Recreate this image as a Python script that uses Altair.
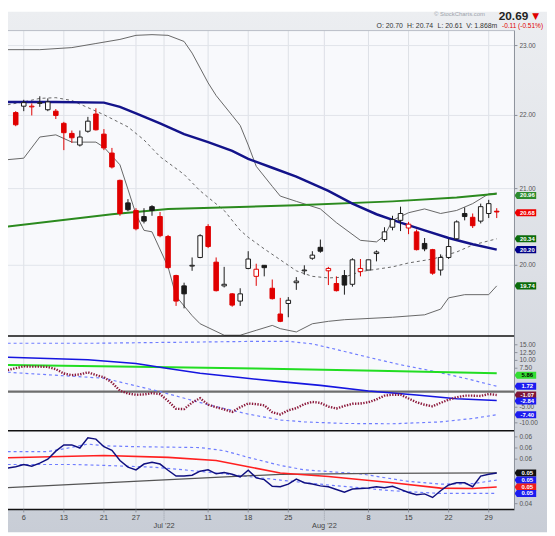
import altair as alt
import pandas as pd

# ---------------- data ----------------
dates = ["Jun 3", "Jun 6", "Jun 7", "Jun 8", "Jun 9", "Jun 10", "Jun 13", "Jun 14", "Jun 15", "Jun 16", "Jun 17",
         "Jun 21", "Jun 22", "Jun 23", "Jun 24", "Jun 27", "Jun 28", "Jun 29", "Jun 30", "Jul 1",
         "Jul 5", "Jul 6", "Jul 7", "Jul 8", "Jul 11", "Jul 12", "Jul 13", "Jul 14", "Jul 15",
         "Jul 18", "Jul 19", "Jul 20", "Jul 21", "Jul 22", "Jul 25", "Jul 26", "Jul 27", "Jul 28", "Jul 29",
         "Aug 1", "Aug 2", "Aug 3", "Aug 4", "Aug 5", "Aug 8", "Aug 9", "Aug 10", "Aug 11", "Aug 12",
         "Aug 15", "Aug 16", "Aug 17", "Aug 18", "Aug 19", "Aug 22", "Aug 23", "Aug 24", "Aug 25", "Aug 26",
         "Aug 29", "Aug 30"]
opens = [22.04, 22.13, 22.12, 22.17, 22.08, 22.06, 21.89, 21.75, 21.59, 21.78, 22.02,
         21.74, 21.48, 21.11, 20.81, 20.71, 20.63, 20.76, 20.63, 20.37,
         19.87, 19.74, 19.99, 20.10, 20.50, 20.04, 19.74, 19.64, 19.55,
         19.96, 19.86, 20.00, 19.71, 19.39, 19.52, 19.78, 19.93, 20.09, 20.23,
         19.93, 19.77, 19.87, 19.76, 19.92, 19.94, 20.15, 20.33, 20.49, 20.58,
         20.48, 20.43, 20.28, 20.20, 19.94, 20.10, 20.34, 20.67, 20.62, 20.57,
         20.67, 20.70]
highs = [22.06, 22.22, 22.17, 22.27, 22.24, 22.09, 21.91, 21.79, 21.79, 21.98, 22.10,
         21.81, 21.55, 21.12, 20.86, 20.74, 20.74, 20.78, 20.69, 20.39,
         19.88, 19.78, 20.10, 20.40, 20.53, 20.10, 19.98, 19.65, 19.71,
         20.18, 20.02, 20.00, 19.82, 19.59, 19.60, 19.85, 20.00, 20.18, 20.33,
         19.98, 19.86, 19.94, 20.09, 20.08, 20.07, 20.19, 20.49, 20.64, 20.76,
         20.56, 20.46, 20.35, 20.21, 20.14, 20.34, 20.58, 20.75, 20.67, 20.80,
         20.85, 20.74]
lows = [21.85, 22.06, 22.00, 22.12, 22.06, 21.95, 21.52, 21.62, 21.57, 21.76, 21.79,
        21.52, 21.27, 20.64, 20.70, 20.45, 20.54, 20.64, 20.36, 19.96,
        19.49, 19.46, 19.93, 20.09, 20.22, 19.67, 19.72, 19.48, 19.49,
        19.95, 19.74, 19.86, 19.57, 19.29, 19.35, 19.69, 19.88, 20.07, 20.16,
        19.75, 19.67, 19.63, 19.73, 19.86, 19.94, 20.05, 20.30, 20.45, 20.44,
        20.40, 20.19, 20.18, 19.88, 19.87, 20.08, 20.33, 20.58, 20.48, 20.54,
        20.61, 20.61]
closes = [21.87, 22.18, 22.13, 22.18, 22.19, 22.00, 21.76, 21.69, 21.70, 21.92, 21.80,
          21.55, 21.29, 20.67, 20.72, 20.47, 20.57, 20.71, 20.38, 19.97,
          19.55, 19.64, 20.00, 20.38, 20.24, 19.68, 19.76, 19.50, 19.64,
          20.08, 19.95, 19.97, 19.58, 19.30, 19.56, 19.80, 19.94, 20.13, 20.18,
          19.96, 19.68, 19.75, 20.07, 19.96, 20.07, 20.17, 20.43, 20.59, 20.67,
          20.53, 20.20, 20.21, 19.90, 20.10, 20.24, 20.56, 20.63, 20.51, 20.76,
          20.80, 20.69]

tick_days = ["Jun 6", "Jun 13", "Jun 21", "Jun 27", "Jul 11", "Jul 18", "Jul 25", "Aug 8", "Aug 15", "Aug 22", "Aug 29"]
tick_labels = ["6", "13", "21", "27", "11", "18", "25", "8", "15", "22", "29"]
month_first = ["Jul 1", "Aug 1"]
month_labels = ["Jul '22", "Aug '22"]

# price overlays (trading-day index, value); index -1 is the session before the first candle
sma50_i = [-1, 5, 11, 13, 15, 18, 21, 24, 27, 29, 32, 35, 39, 42, 45, 48, 51, 54, 57, 60]
sma50_v = [22.19, 22.19, 22.18, 22.12, 22.03, 21.89, 21.74, 21.63, 21.51, 21.40, 21.28, 21.16, 20.97,
           20.80, 20.66, 20.55, 20.45, 20.35, 20.27, 20.20]
sma200_i = [-1, 12, 19, 29, 35, 47, 55, 60]
sma200_v = [20.50, 20.66, 20.73, 20.76, 20.78, 20.83, 20.88, 20.93]
bbu_i = [-1, 3, 7, 10, 13, 15, 17, 19, 21, 22, 24, 25, 27, 28, 29, 30, 32, 33, 35, 38, 40, 43, 45, 46, 47,
         49, 51, 53, 55, 57, 59, 60]
bbu_v = [22.94, 22.94, 22.97, 23.03, 23.09, 23.15, 23.16, 23.15, 23.06, 22.89, 22.46, 22.28, 22.00, 21.86,
         21.59, 21.30, 21.03, 20.90, 20.83, 20.73, 20.55, 20.32, 20.30, 20.38, 20.58, 20.68, 20.73, 20.67,
         20.71, 20.80, 20.93, 20.94]
bbm_i = [-1, 1, 3, 5, 7, 8, 11, 14, 16, 18, 21, 23, 26, 28, 29, 31, 33, 35, 37, 39, 41, 43, 47, 49, 52,
         55, 57, 60]
bbm_v = [22.15, 22.19, 22.24, 22.25, 22.21, 22.16, 22.01, 21.84, 21.66, 21.43, 21.19, 20.97, 20.71, 20.45,
         20.36, 20.21, 20.07, 19.93, 19.86, 19.84, 19.85, 19.92, 19.98, 20.03, 20.08, 20.17, 20.26, 20.34]
bbl_i = [-1, 1, 3, 5, 7, 10, 11, 13, 14, 15, 16, 17, 19, 20, 22, 23, 26, 28, 30, 32, 33, 35, 37, 39, 41,
         47, 51, 53, 54, 56, 59, 60]
bbl_v = [21.39, 21.41, 21.70, 21.73, 21.63, 21.63, 21.56, 21.32, 20.99, 20.66, 20.45, 20.43, 19.98, 19.61,
         19.37, 19.27, 19.13, 19.13, 19.19, 19.25, 19.21, 19.17, 19.27, 19.30, 19.32, 19.35, 19.38, 19.45,
         19.59, 19.63, 19.63, 19.74]

# middle panel
p2_green_i = [-1, 15, 30, 45, 60]
p2_green_v = [8.5, 8.0, 7.4, 6.7, 5.9]
p2_blue_i = [-1, 4, 9, 15, 19, 23, 28, 33, 38, 44, 50, 55, 60]
p2_blue_v = [11.0, 10.6, 10.2, 9.0, 7.4, 5.9, 4.5, 3.2, 2.0, 0.2, -1.1, -2.3, -2.84]
p2_up_i = [-1, 10, 20, 30, 34, 37, 40, 44, 48, 52, 56, 60]
p2_up_v = [15.5, 15.5, 15.8, 16.1, 16.1, 15.3, 13.5, 11.0, 8.6, 6.6, 4.3, 1.72]
p2_lo_i = [-1, 11, 18, 24, 29, 33, 36, 41, 47, 53, 57, 60]
p2_lo_v = [6.2, 4.3, 0.0, -4.2, -7.2, -9.1, -9.7, -10.2, -10.3, -9.7, -8.6, -7.4]
p2_maroon = [6.9, 7.5, 8.1, 8.0, 8.0, 7.9, 7.2, 5.8, 5.3, 5.5, 6.2, 5.3, 4.6, 2.9, 0.3, -0.6, -1.0, -0.9,
             -0.5, -0.8, -3.0, -5.5, -5.6, -3.5, -2.1, -4.2, -5.0, -5.7, -6.5, -5.0, -3.8, -4.0, -4.4,
             -6.6, -7.3, -6.0, -5.3, -4.0, -3.3, -3.6, -4.8, -5.4, -4.6, -3.9, -3.8, -3.4, -2.5, -1.3,
             -1.0, -1.0, -2.2, -3.4, -4.2, -4.7, -3.6, -2.6, -1.8, -1.3, -1.3, -1.4, -0.8, -1.07]

# lower panel
p3_navy = [0.0530, 0.0533, 0.0538, 0.0534, 0.0541, 0.0550, 0.0568, 0.0582, 0.0582, 0.0575, 0.0598, 0.0595,
           0.0578, 0.0570, 0.0547, 0.0532, 0.0526, 0.0539, 0.0543, 0.0539, 0.0525, 0.0512, 0.0512, 0.0514,
           0.0523, 0.0526, 0.0517, 0.0520, 0.0516, 0.0510, 0.0525, 0.0508, 0.0504, 0.0489, 0.0488, 0.0494,
           0.0505, 0.0497, 0.0494, 0.0490, 0.0488, 0.0482, 0.0476, 0.0483, 0.0484, 0.0485, 0.0488, 0.0486,
           0.0489, 0.0482, 0.0475, 0.0470, 0.0472, 0.0464, 0.0479, 0.0492, 0.0497, 0.0497, 0.0488, 0.0512,
           0.0516, 0.0519]
p3_red_i = [-1, 11, 19, 25, 29, 33, 39, 47, 53, 57, 60]
p3_red_v = [0.0553, 0.0558, 0.0554, 0.0547, 0.0533, 0.0519, 0.0511, 0.0497, 0.0485, 0.0484, 0.04875]
p3_black_i = [-1, 16, 33, 45, 60]
p3_black_v = [0.0486, 0.0501, 0.0516, 0.0518, 0.0519]
p3_up_i = [-1, 4, 6, 9, 11, 15, 23, 26, 29, 33, 36, 43, 49, 53, 57, 60]
p3_up_v = [0.0567, 0.0567, 0.0573, 0.0584, 0.0580, 0.0578, 0.0576, 0.0569, 0.0554, 0.0536, 0.0526, 0.0517,
           0.0500, 0.0494, 0.0495, 0.0503]
p3_lo_i = [-1, 7, 11, 17, 21, 26, 33, 39, 47, 53, 60]
p3_lo_v = [0.0538, 0.0538, 0.0536, 0.0532, 0.0526, 0.0517, 0.0503, 0.0492, 0.0479, 0.0473, 0.0473]

# axis ticks (only those not hidden behind value tags) and right-hand value tags
price_ticks = [20, 21, 22, 23]
p2_ticks = [15, 12.5, 10, 7.5, -5, -10]
p3_ticks = [0.06, 0.0575, 0.055, 0.045]
price_tag_txt = ["20.96", "20.68", "20.34", "20.20", "19.74"]
price_tag_val = [20.96, 20.68, 20.34, 20.20, 19.74]
price_tag_col = ["#2e8b2e", "#ee0000", "#0b6b0b", "#000088", "#0b6b0b"]
price_tag_nudge = [4, 0, 0, 0, 0]
p2_tag_txt = ["5.86", "1.72", "-1.07", "-2.84", "-7.40"]
p2_tag_val = [5.86, 1.72, -1.07, -2.84, -7.40]
p2_tag_col = ["#33dd33", "#1c1cf0", "#7d1535", "#1c1cf0", "#1c1cf0"]
p2_tag_txtcol = ["#000000", "#ffffff", "#ffffff", "#ffffff", "#ffffff"]
p2_tag_nudge = [2, 0, 0, 0.5, 0]
p3_tag_val = [p3_black_v[-1], p3_up_v[-1], p3_red_v[-1], p3_lo_v[-1]]
p3_tag_col = ["#111111", "#1c1cf0", "#f01c1c", "#1c1cf0"]
p3_tag_nudge = [0, 0, 0, 0]

# ---------------- layout constants ----------------
FONT = "Liberation Sans"
W, H = 514, 505
PT, PB = 19, 329
Q2T, Q2B = 329, 425
Q3T, Q3B = 425, 505
TAG = "M -1.2 0 L -0.95 -0.36 L 1 -0.36 L 1 0.36 L -0.95 0.36 Z"

xs = alt.Scale(domain=[-0.35, 61.6], nice=False, zero=False)
X = alt.X("i:Q", scale=xs, axis=None)
yP = alt.Scale(type="log", domain=[19.12, 23.22], range=[PB, PT], nice=False)
y2s = alt.Scale(domain=[-12.5, 17.8], range=[Q2B, Q2T], nice=False, zero=False)
y3s = alt.Scale(domain=[0.0437, 0.0614], range=[Q3B, Q3T], nice=False, zero=False)

one = pd.DataFrame({"a": [0]})
idx_of = {d: k for k, d in enumerate(dates)}


def Yv(field, sc):
    return alt.Y(field, scale=sc, axis=None)


def line(ii, vv, sc, color, width, dash=None, cap="butt"):
    kw = dict(color=color, strokeWidth=width, clip=True, strokeCap=cap)
    if dash:
        kw["strokeDash"] = dash
    df = pd.DataFrame({"i": ii, "v": vv})
    return alt.Chart(df).mark_line(**kw).encode(x=X, y=Yv("v:Q", sc))


def yaxis(vals, sc):
    df = pd.DataFrame({"v": vals, "t": [f"{v:.2f}" for v in vals]})
    tk = alt.Chart(df).mark_rule(color="#8a8f99", strokeWidth=1).encode(
        x=alt.value(W), x2=alt.value(W + 3), y=Yv("v:Q", sc))
    lb = alt.Chart(df).mark_text(font=FONT, fontSize=6.6, color="#555", align="left", baseline="middle").encode(
        x=alt.value(W + 5), y=Yv("v:Q", sc), text="t:N")
    return [tk, lb]


def tags(txt, vals, fills, txtcols, nudges, sc):
    out = []
    for t, v, f, c, n in zip(txt, vals, fills, txtcols, nudges):
        df = pd.DataFrame({"t": [t], "v": [v]})
        out.append(alt.Chart(df).mark_point(shape=TAG, size=400, filled=True, opacity=1, strokeWidth=0,
                                            fill=f, yOffset=n).encode(
            x=alt.value(W + 12), y=Yv("v:Q", sc)))
        out.append(alt.Chart(df).mark_text(font=FONT, fontSize=6, fontWeight="bold", align="center",
                                           baseline="middle", color=c, yOffset=n).encode(
            x=alt.value(W + 13), y=Yv("v:Q", sc), text="t:N"))
    return out


# ---------------- background ----------------
grad = alt.LinearGradient(gradient="linear", x1=0, x2=0, y1=0, y2=1,
                          stops=[alt.GradientStop(color="#eceef1", offset=0),
                                 alt.GradientStop(color="#dcdfe5", offset=0.5),
                                 alt.GradientStop(color="#c8cdd6", offset=1)])
bg = alt.Chart(one).mark_rect(fill=grad).encode(
    x=alt.value(0), x2=alt.value(W + 33), y=alt.value(0), y2=alt.value(H + 23))
panel_bg = alt.Chart(one).mark_rect(color="#f8f9fc").encode(
    x=alt.value(0), x2=alt.value(W), y=alt.value(PT), y2=alt.value(Q3B))

tick_pos = [idx_of[d] for d in tick_days]
month_pos = [idx_of[d] - 0.5 for d in month_first]
vg_df = pd.DataFrame({"i": tick_pos + month_pos})
vgrid = alt.Chart(vg_df).mark_rule(color="#dcdfe6", strokeWidth=1).encode(
    x=X, y=alt.value(PT), y2=alt.value(Q3B))

# ---------------- price panel ----------------
cd = pd.DataFrame({"i": range(len(dates)), "date": dates, "open": opens, "high": highs,
                   "low": lows, "close": closes})
prev = cd["close"].shift(1).fillna(cd["open"])
up = cd["close"] >= prev
hollow = cd["close"] >= cd["open"]
cd["col"] = ["#1a1a1a" if u else "#e00000" for u in up]
cd["fill"] = ["#ffffff" if h else c for h, c in zip(hollow, cd["col"])]
cd["top"] = cd[["open", "close"]].max(axis=1)
cd["bot"] = cd[["open", "close"]].min(axis=1)

pgrid = alt.Chart(pd.DataFrame({"v": price_ticks})).mark_rule(color="#e1e4ea", strokeWidth=1).encode(
    x=alt.value(0), x2=alt.value(W), y=Yv("v:Q", yP))
wicks = alt.Chart(cd).mark_rule(strokeWidth=1).encode(
    x=X, y=Yv("low:Q", yP), y2="high:Q", color=alt.Color("col:N", scale=None))
bodies = alt.Chart(cd).mark_bar(size=4.6, strokeWidth=1).encode(
    x=X, y=Yv("top:Q", yP), y2="bot:Q",
    fill=alt.Fill("fill:N", scale=None), stroke=alt.Stroke("col:N", scale=None))

price_layers = [pgrid,
                line(bbu_i, bbu_v, yP, "#666666", 1),
                line(bbl_i, bbl_v, yP, "#666666", 1),
                line(bbm_i, bbm_v, yP, "#666666", 1, [3, 3]),
                line(sma200_i, sma200_v, yP, "#2b8a1e", 2),
                line(sma50_i, sma50_v, yP, "#13138a", 2.5),
                wicks, bodies] + yaxis(price_ticks, yP) + \
               tags(price_tag_txt, price_tag_val, price_tag_col, ["#ffffff"] * 5, price_tag_nudge, yP)
price = alt.layer(*price_layers)

# ---------------- middle panel ----------------
zero = alt.Chart(pd.DataFrame({"v": [0]})).mark_rule(color="#6e6e6e", strokeWidth=2.5).encode(
    x=alt.value(0), x2=alt.value(W), y=Yv("v:Q", y2s))
p2_layers = [zero,
             line(p2_up_i, p2_up_v, y2s, "#6f7dff", 1.2, [3, 3]),
             line(p2_lo_i, p2_lo_v, y2s, "#6f7dff", 1.2, [3, 3]),
             line(p2_green_i, p2_green_v, y2s, "#22dd22", 2),
             line(p2_blue_i, p2_blue_v, y2s, "#1515e0", 1.6),
             line(list(range(-1, -1 + len(p2_maroon))), p2_maroon, y2s, "#8c1a3c", 2.4, [1.4, 1.4])] + \
            yaxis(p2_ticks, y2s) + \
            tags(p2_tag_txt, p2_tag_val, p2_tag_col, p2_tag_txtcol, p2_tag_nudge, y2s)
p2 = alt.layer(*p2_layers)

# ---------------- lower panel ----------------
p3_layers = [line(p3_up_i, p3_up_v, y3s, "#6f7dff", 1.2, [3, 3]),
             line(p3_lo_i, p3_lo_v, y3s, "#6f7dff", 1.2, [3, 3]),
             line(p3_black_i, p3_black_v, y3s, "#555555", 1.3),
             line(p3_red_i, p3_red_v, y3s, "#ff2020", 1.6),
             line(list(range(-1, -1 + len(p3_navy))), p3_navy, y3s, "#101080", 1.5)] + \
            yaxis(p3_ticks, y3s) + \
            tags([f"{v:.2f}" for v in p3_tag_val], p3_tag_val, p3_tag_col, ["#ffffff"] * 4, p3_tag_nudge, y3s)
p3 = alt.layer(*p3_layers)

# ---------------- frame, x labels, header ----------------
def hrule(y, color, w):
    return alt.Chart(one).mark_rule(color=color, strokeWidth=w).encode(
        x=alt.value(0), x2=alt.value(W), y=alt.value(y))


frame = [hrule(PT, "#b9bdc6", 1), hrule(PB, "#111111", 1.5), hrule(Q2B, "#111111", 1.5),
         hrule(Q3B, "#111111", 1.5),
         alt.Chart(one).mark_rule(color="#8a8f99", strokeWidth=1).encode(
             x=alt.value(W), y=alt.value(PT), y2=alt.value(Q3B))]

xl_df = pd.DataFrame({"i": tick_pos, "t": tick_labels})
xticks = alt.Chart(xl_df).mark_rule(color="#8a8f99").encode(x=X, y=alt.value(Q3B), y2=alt.value(Q3B + 3))
xlabels = alt.Chart(xl_df).mark_text(font=FONT, fontSize=7.5, color="#444", baseline="middle").encode(
    x=X, y=alt.value(Q3B + 9), text="t:N")
ml_df = pd.DataFrame({"i": month_pos, "t": month_labels})
mticks = alt.Chart(ml_df).mark_rule(color="#9aa0aa", strokeDash=[1, 1]).encode(
    x=X, y=alt.value(Q3B), y2=alt.value(Q3B + 12))
mlabels = alt.Chart(ml_df).mark_text(font=FONT, fontSize=7.5, color="#444", baseline="middle").encode(
    x=X, y=alt.value(Q3B + 17), text="t:N")


def htext(txt, x, y, size, color="#333", weight="normal", align="left", font=FONT, baseline="middle"):
    return alt.Chart(one).mark_text(font=font, fontSize=size, color=color, fontWeight=weight,
                                    align=align, baseline=baseline).encode(
        x=alt.value(x), y=alt.value(y), text=alt.value(txt))


header = [htext("© StockCharts.com", 484, -1, 6, "#a0a4ab", align="right", baseline="top"),
          htext("20.69", 528, 4, 12, "#222", "bold", "right"),
          htext("▼", 532, 4, 9, "#e00000", font="DejaVu Sans"),
          htext("O: 20.70", 374, 14, 7),
          htext("H: 20.74", 405, 14, 7),
          htext("L: 20.61", 436, 14, 7),
          htext("V: 1.868m", 465, 14, 7),
          htext("-0.11 (-0.51%)", 543, 14, 6.6, "#e00000", align="right")]

chart = alt.layer(
    bg, panel_bg, vgrid, price, p2, p3, *frame, xticks, xlabels, mticks, mlabels, *header
).resolve_scale(y="independent").properties(
    width=W, height=H,
    autosize=alt.AutoSizeParams(type="none"),
    padding={"left": 0, "top": 0, "right": 33, "bottom": 23},
).configure_view(stroke=None)

chart.save("out.html", embed_options={"renderer": "svg", "actions": False})
